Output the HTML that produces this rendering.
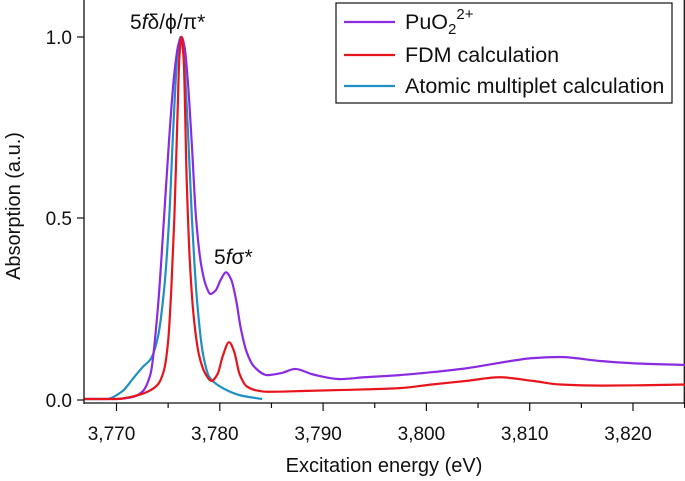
<!DOCTYPE html>
<html><head><meta charset="utf-8"><style>
body{margin:0;background:#fff;}
svg text{font-family:"Liberation Sans",sans-serif;fill:#111;}
</style></head><body>
<svg id="chart" width="685" height="476" viewBox="0 0 685 476">
<g id="axes"></g><g id="series"></g><g id="ann"></g><g id="legend"></g>
</svg>
<script>
const xTicks=[3770,3780,3790,3800,3810,3820];
const xTickLabels=["3,770","3,780","3,790","3,800","3,810","3,820"];
const yTicks=[0,0.5,1.0];
const yTickLabels=["0.0","0.5","1.0"];
const puX=[3766.9,3770,3771.5,3772.5,3773.3,3774,3774.6,3775.1,3775.6,3776,3776.3,3776.6,3776.9,3777.3,3777.7,3778.2,3778.7,3779.1,3779.6,3780.1,3780.6,3781.1,3781.6,3782,3782.6,3783.3,3784.6,3786,3787.3,3789,3791.6,3794,3797.4,3800.5,3803.9,3807.1,3810.3,3812.9,3816.8,3820.5,3825.1];
const puY=[0,0,0.005,0.02,0.07,0.25,0.5,0.72,0.9,0.98,1.0,0.97,0.88,0.7,0.5,0.37,0.31,0.29,0.3,0.33,0.35,0.33,0.27,0.2,0.13,0.09,0.066,0.072,0.083,0.068,0.055,0.06,0.066,0.074,0.085,0.1,0.113,0.116,0.105,0.098,0.094];
const fdmX=[3766.9,3770,3772,3773,3774,3774.6,3775,3775.3,3775.6,3775.9,3776.1,3776.3,3776.5,3776.8,3777.1,3777.5,3778,3778.6,3779.2,3779.8,3780.3,3780.9,3781.4,3781.9,3782.6,3783.5,3784.6,3788,3792,3797.4,3800.5,3803.9,3807.1,3810.3,3813,3817,3821,3825.1];
const fdmY=[0,0,0.01,0.02,0.04,0.08,0.16,0.3,0.5,0.78,0.95,1.0,0.94,0.6,0.38,0.22,0.12,0.07,0.05,0.07,0.12,0.157,0.13,0.07,0.035,0.024,0.02,0.022,0.025,0.03,0.04,0.05,0.06,0.05,0.04,0.037,0.038,0.04];
const amX=[3766.9,3769,3770.5,3771.7,3772.6,3773.3,3774,3774.6,3775.1,3775.5,3775.9,3776.2,3776.5,3776.9,3777.3,3777.8,3778.4,3779,3780,3781,3782,3784.1];
const amY=[0,0,0.02,0.06,0.09,0.11,0.17,0.3,0.5,0.75,0.95,1.0,0.95,0.75,0.5,0.27,0.12,0.06,0.035,0.02,0.01,0.0];
const seriesNames=["PuO2 2+","FDM calculation","Atomic multiplet calculation"];
const colors=["#8a2be2","#e8141c","#1f8fc4"];
const X0=3770,PX0=116.5,K=10.33;
const sx=v=>PX0+(v-X0)*K;
const sy=v=>399-362*v;
const NS="http://www.w3.org/2000/svg";
function mk(t,attrs,parent){const e=document.createElementNS(NS,t);for(const k in attrs)e.setAttribute(k,attrs[k]);parent.appendChild(e);return e;}
const axes=document.getElementById('axes');
let l=mk('line',{x1:84,y1:0,x2:84,y2:404,stroke:'#111','stroke-width':1.3},axes);


l=mk('line',{x1:84,y1:403,x2:685,y2:403,stroke:'#111','stroke-width':1.3},axes);


l=mk('line',{x1:684.3,y1:0,x2:684.3,y2:404,stroke:'#111','stroke-width':1.3},axes);


for(let v=3770;v<=3825;v+=5){const x=sx(v);const major=xTicks.includes(v);
 const t=mk('line',{x1:x,y1:403,x2:x,y2:major?411:408,stroke:'#111','stroke-width':1.2},axes);
 
 }
xTicks.forEach((v,i)=>{const t=mk('text',{x:sx(v)-5,y:440,'font-size':19,'text-anchor':'middle'},axes);t.textContent=xTickLabels[i];
 
 });
yTicks.forEach((v,i)=>{const y=sy(v)+(v===0?1:0);
 const t=mk('line',{x1:77,y1:y,x2:84,y2:y,stroke:'#111','stroke-width':1.2},axes);
 
 
 const tx=mk('text',{x:72,y:y+7,'font-size':19,'text-anchor':'end'},axes);tx.textContent=yTickLabels[i];
 
 });
let tt=mk('text',{x:384,y:472,'font-size':20,'text-anchor':'middle'},axes);tt.textContent='Excitation energy (eV)';


tt=mk('text',{x:20,y:206,'font-size':20,'text-anchor':'middle',transform:'rotate(-90 20 206)'},axes);tt.textContent='Absorption (a.u.)';


function path(xs,ys){
 const n=xs.length,px=xs.map(sx),py=ys.map(sy),d=[],m=new Array(n);
 for(let i=0;i<n-1;i++)d.push((py[i+1]-py[i])/(px[i+1]-px[i]));
 m[0]=d[0];m[n-1]=d[n-2];
 for(let i=1;i<n-1;i++){if(d[i-1]*d[i]<=0)m[i]=0;else{const w1=2*(px[i+1]-px[i])+(px[i]-px[i-1]),w2=(px[i+1]-px[i])+2*(px[i]-px[i-1]);m[i]=(w1+w2)/(w1/d[i-1]+w2/d[i]);}}
 let s='M'+px[0]+','+py[0];
 for(let i=0;i<n-1;i++){const h=(px[i+1]-px[i])/3;
  s+=`C${px[i]+h},${py[i]+m[i]*h} ${px[i+1]-h},${py[i+1]-m[i+1]*h} ${px[i+1]},${py[i+1]}`;}
 return s;}
const ser=document.getElementById('series');
let s=mk('path',{d:path(amX,amY),fill:'none',stroke:colors[2],'stroke-width':2.2},ser);


s=mk('path',{d:path(puX,puY),fill:'none',stroke:colors[0],'stroke-width':2.2},ser);


s=mk('path',{d:path(fdmX,fdmY),fill:'none',stroke:colors[1],'stroke-width':2.2},ser);


const ann=document.getElementById('ann');
let a=document.createElementNS(NS,'text');a.setAttribute('x',130);a.setAttribute('y',29);a.setAttribute('font-size',21);
a.innerHTML='5<tspan font-style="italic">f</tspan>δ/ϕ/π*';


ann.appendChild(a);
a=document.createElementNS(NS,'text');a.setAttribute('x',214);a.setAttribute('y',264);a.setAttribute('font-size',21);
a.innerHTML='5<tspan font-style="italic">f</tspan>σ*';


ann.appendChild(a);
const lg=document.getElementById('legend');
let b=mk('rect',{x:336,y:3,width:336,height:100,fill:'#fff',stroke:'#111','stroke-width':1.2},lg);


const ly=[22,55,86];
seriesNames.forEach((n,i)=>{
 const ln=mk('line',{x1:344,y1:ly[i],x2:395,y2:ly[i],stroke:colors[i],'stroke-width':2.2},lg);
 
 
 const t=mk('text',{x:405,y:ly[i]+7,'font-size':21.5},lg);
 if(i===0){t.innerHTML='PuO<tspan font-size="15" dy="5">2</tspan><tspan font-size="15" dy="-15">2+</tspan>';}else t.textContent=n;
 
 
});
</script>
</body></html>
